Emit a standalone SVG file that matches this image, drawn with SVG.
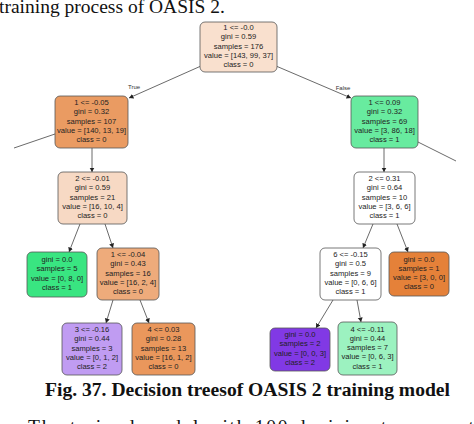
<svg xmlns="http://www.w3.org/2000/svg" width="474" height="424" viewBox="0 0 474 424">
<defs>
<marker id="arr" markerUnits="userSpaceOnUse" markerWidth="6" markerHeight="6" refX="4.5" refY="2.5" orient="auto">
<path d="M0,0 L4.5,2.5 L0,5 Z" fill="#222"/>
</marker>
<style>
.box{stroke:#555;stroke-width:0.8}
.t{font-family:"Liberation Sans",Arial,sans-serif;font-size:7.6px;fill:#222;text-anchor:middle}
.e{stroke:#444;stroke-width:0.8;fill:none}
.ea{stroke:#444;stroke-width:0.8;fill:none;marker-end:url(#arr)}
.lbl{font-family:"Liberation Sans",Arial,sans-serif;font-size:6px;fill:#333;text-anchor:middle}
.serif{font-family:"Liberation Serif","Times New Roman",serif;fill:#111}
</style>
</defs>
<rect width="474" height="424" fill="#fff"/>
<text class="serif" x="-1" y="13" font-size="19.5">training process of OASIS 2.</text>

<g id="edges">
<line class="ea" x1="201" y1="66" x2="129" y2="98"/>
<line class="ea" x1="276" y1="66" x2="351" y2="98"/>
<line class="e" x1="55" y1="134" x2="14" y2="148"/>
<line class="e" x1="418" y1="142" x2="456" y2="161"/>
<line class="ea" x1="92" y1="148" x2="92" y2="172"/>
<line class="ea" x1="384" y1="148" x2="384" y2="172"/>
<line class="ea" x1="80" y1="224" x2="69" y2="252"/>
<line class="ea" x1="105" y1="224" x2="113" y2="248"/>
<line class="ea" x1="373" y1="224" x2="363" y2="248"/>
<line class="ea" x1="397" y1="224" x2="408" y2="252"/>
<line class="ea" x1="113" y1="300" x2="106" y2="323"/>
<line class="ea" x1="140" y1="300" x2="149" y2="323"/>
<line class="ea" x1="333" y1="300" x2="316" y2="328"/>
<line class="ea" x1="357" y1="300" x2="361" y2="322"/>
<text class="lbl" x="134" y="89">True</text>
<text class="lbl" x="343" y="90">False</text>
</g>

<g id="root">
<rect class="box" x="200" y="22" width="77" height="50" rx="5" fill="#f9e0ce"/>
<text class="t" x="238.5" y="30">1 &lt;= -0.0</text>
<text class="t" x="238.5" y="39.3">gini = 0.59</text>
<text class="t" x="238.5" y="48.6">samples = 176</text>
<text class="t" x="238.5" y="57.9">value = [143, 99, 37]</text>
<text class="t" x="238.5" y="67.2">class = 0</text>
</g>

<g id="n_l1">
<rect class="box" x="55" y="96" width="73" height="52" rx="5" fill="#ea9b62"/>
<text class="t" x="91.5" y="105">1 &lt;= -0.05</text>
<text class="t" x="91.5" y="114.3">gini = 0.32</text>
<text class="t" x="91.5" y="123.6">samples = 107</text>
<text class="t" x="91.5" y="132.9">value = [140, 13, 19]</text>
<text class="t" x="91.5" y="142.2">class = 0</text>
</g>

<g id="n_r1">
<rect class="box" x="351" y="96" width="67" height="52" rx="5" fill="#68eb9f"/>
<text class="t" x="384.5" y="105">1 &lt;= 0.09</text>
<text class="t" x="384.5" y="114.3">gini = 0.32</text>
<text class="t" x="384.5" y="123.6">samples = 69</text>
<text class="t" x="384.5" y="132.9">value = [3, 86, 18]</text>
<text class="t" x="384.5" y="142.2">class = 1</text>
</g>

<g id="n_l2">
<rect class="box" x="58" y="172" width="69" height="52" rx="5" fill="#f7d9c4"/>
<text class="t" x="92.5" y="181">2 &lt;= -0.01</text>
<text class="t" x="92.5" y="190.3">gini = 0.59</text>
<text class="t" x="92.5" y="199.6">samples = 21</text>
<text class="t" x="92.5" y="208.9">value = [16, 10, 4]</text>
<text class="t" x="92.5" y="218.2">class = 0</text>
</g>

<g id="n_r2">
<rect class="box" x="354" y="172" width="61" height="52" rx="5" fill="#ffffff"/>
<text class="t" x="384.5" y="181">2 &lt;= 0.31</text>
<text class="t" x="384.5" y="190.3">gini = 0.64</text>
<text class="t" x="384.5" y="199.6">samples = 10</text>
<text class="t" x="384.5" y="208.9">value = [3, 6, 6]</text>
<text class="t" x="384.5" y="218.2">class = 1</text>
</g>

<g id="n_l3a">
<rect class="box" x="27" y="252" width="60" height="45" rx="5" fill="#39e581"/>
<text class="t" x="57" y="262">gini = 0.0</text>
<text class="t" x="57" y="271.3">samples = 5</text>
<text class="t" x="57" y="280.6">value = [0, 8, 0]</text>
<text class="t" x="57" y="289.9">class = 1</text>
</g>

<g id="n_l3b">
<rect class="box" x="97" y="248" width="62" height="52" rx="5" fill="#eeab7b"/>
<text class="t" x="128" y="257">1 &lt;= -0.04</text>
<text class="t" x="128" y="266.3">gini = 0.43</text>
<text class="t" x="128" y="275.6">samples = 16</text>
<text class="t" x="128" y="284.9">value = [16, 2, 4]</text>
<text class="t" x="128" y="294.2">class = 0</text>
</g>

<g id="n_r3a">
<rect class="box" x="320" y="248" width="61" height="52" rx="5" fill="#ffffff"/>
<text class="t" x="350.5" y="257">6 &lt;= -0.15</text>
<text class="t" x="350.5" y="266.3">gini = 0.5</text>
<text class="t" x="350.5" y="275.6">samples = 9</text>
<text class="t" x="350.5" y="284.9">value = [0, 6, 6]</text>
<text class="t" x="350.5" y="294.2">class = 1</text>
</g>

<g id="n_r3b">
<rect class="box" x="389" y="252" width="60" height="44" rx="5" fill="#e58139"/>
<text class="t" x="419" y="261.5">gini = 0.0</text>
<text class="t" x="419" y="270.8">samples = 1</text>
<text class="t" x="419" y="280.1">value = [3, 0, 0]</text>
<text class="t" x="419" y="289.4">class = 0</text>
</g>

<g id="n_l4a">
<rect class="box" x="62" y="323" width="60" height="52" rx="5" fill="#c09cf2"/>
<text class="t" x="92" y="332">3 &lt;= -0.16</text>
<text class="t" x="92" y="341.3">gini = 0.44</text>
<text class="t" x="92" y="350.6">samples = 3</text>
<text class="t" x="92" y="359.9">value = [0, 1, 2]</text>
<text class="t" x="92" y="369.2">class = 2</text>
</g>

<g id="n_l4b">
<rect class="box" x="132" y="323" width="63" height="52" rx="5" fill="#ea975c"/>
<text class="t" x="163.5" y="332">4 &lt;= 0.03</text>
<text class="t" x="163.5" y="341.3">gini = 0.28</text>
<text class="t" x="163.5" y="350.6">samples = 13</text>
<text class="t" x="163.5" y="359.9">value = [16, 1, 2]</text>
<text class="t" x="163.5" y="369.2">class = 0</text>
</g>

<g id="n_r4a">
<rect class="box" x="270" y="328" width="60" height="43" rx="5" fill="#8139e5"/>
<text class="t" x="300" y="337">gini = 0.0</text>
<text class="t" x="300" y="346.3">samples = 2</text>
<text class="t" x="300" y="355.6">value = [0, 0, 3]</text>
<text class="t" x="300" y="364.9">class = 2</text>
</g>

<g id="n_r4b">
<rect class="box" x="338" y="322" width="59" height="53" rx="5" fill="#9cf2c0"/>
<text class="t" x="367.5" y="331.5">4 &lt;= -0.11</text>
<text class="t" x="367.5" y="340.8">gini = 0.44</text>
<text class="t" x="367.5" y="350.1">samples = 7</text>
<text class="t" x="367.5" y="359.4">value = [0, 6, 3]</text>
<text class="t" x="367.5" y="368.7">class = 1</text>
</g>

<text class="serif" x="45" y="396" font-size="19.6" font-weight="bold" textLength="405" lengthAdjust="spacingAndGlyphs">Fig. 37. Decision treesof OASIS 2 training model</text>
<text class="serif" x="28" y="433" font-size="19.5" textLength="446" lengthAdjust="spacing">The trained model with 100 decision trees are t</text>
</svg>
